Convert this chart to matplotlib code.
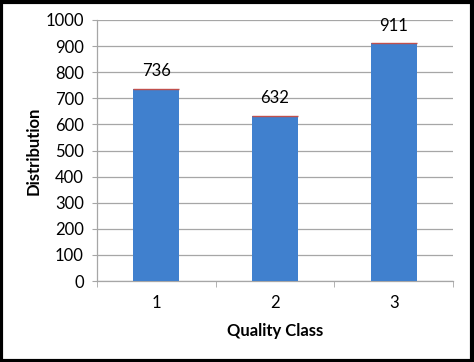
import matplotlib
matplotlib.use("Agg")
import matplotlib.pyplot as plt
from matplotlib.patches import Rectangle

categories = ["1", "2", "3"]
values = [736, 632, 911]
yticks = list(range(0, 1001, 100))

plt.rcParams['font.family'] = ['Lato', 'DejaVu Sans']

fig = plt.figure(figsize=(4.74, 3.62), dpi=100)
ax = fig.add_axes([97/474, 1-281/362, (453-97)/474, (281-20)/362])

x = list(range(len(categories)))
w = 0.39
ax.bar(x, values, width=w, color='#4080CE', zorder=3)
ax.hlines(values, [i - w/2 for i in x], [i + w/2 for i in x], color='#C0504D', lw=1, zorder=4)
for xi, v in zip(x, values):
    ax.annotate(str(v), (xi, v), xytext=(0, 7), textcoords='offset points',
                ha='center', va='bottom', fontsize=12)

ax.set_xlim(-0.5, len(categories) - 0.5)
ax.set_ylim(0, 1000)
ax.set_yticks(yticks)
ax.set_yticklabels([str(t) for t in yticks], fontsize=12)
ax.yaxis.grid(True, color='#A6A6A6', lw=0.9, zorder=0)
ax.set_xticks(x)
ax.set_xticklabels(categories, fontsize=12)
ax.set_xticks([i - 0.5 for i in range(len(categories) + 1)], minor=True)
ax.tick_params(axis='x', which='major', length=0, pad=10)
ax.tick_params(axis='x', which='minor', length=4, color='#A6A6A6', direction='out')
ax.tick_params(axis='y', length=3.5, color='#A6A6A6', direction='out', pad=6)
for s in ['top', 'right']:
    ax.spines[s].set_visible(False)
for s in ['left', 'bottom']:
    ax.spines[s].set_color('#A6A6A6')
    ax.spines[s].set_linewidth(0.9)

ax.set_xlabel('Quality Class', fontsize=12, fontweight='bold', labelpad=9)
ax.set_ylabel('Distribution', fontsize=12, fontweight='bold', labelpad=3)

fig.patches.append(Rectangle((0.002, 0.003), 0.993, 0.992, transform=fig.transFigure,
                             fill=False, edgecolor='black', lw=3))

fig.savefig('out.png', dpi=100)
